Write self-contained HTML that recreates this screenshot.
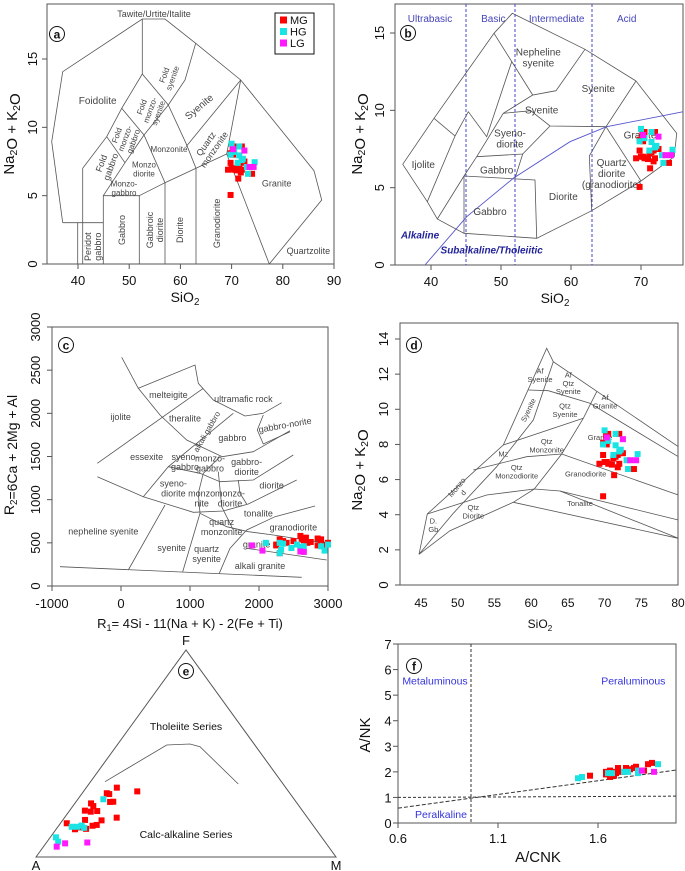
<!DOCTYPE html>
<html><head><meta charset="utf-8">
<style>
html,body{margin:0;padding:0;background:#fff;}
svg{display:block;font-family:"Liberation Sans",Arial,sans-serif;}
</style></head>
<body>
<svg id="fig" width="685" height="871" viewBox="0 0 685 871"></svg>
<script>
// ---- Data ----
const sio2MG = [70.2,70.5,69.8,70.3,72.0,69.8,69.3,70.0,70.5,71.0,71.2,71.8,72.5,72.0,71.8,74.0,71.3,69.8,70.3,71.5];
const alkMG  = [8.5,8.6,8.1,8.0,8.6,7.4,6.9,7.0,6.9,6.85,7.2,7.4,7.5,6.9,6.7,6.6,6.25,5.05,7.0,7.3];
const sio2HG = [70.0,71.5,70.5,69.8,71.5,72.2,71.2,72.0,73.0,73.2,74.5];
const alkHG  = [8.8,8.6,8.2,8.0,7.95,7.7,7.4,7.6,7.1,6.6,7.45];
const sio2LG = [70.3,72.5,73.5,74.3];
const alkLG  = [8.4,8.3,7.1,7.1];
const r1MG = [2250,2300,2350,2400,2500,2600,2620,2650,2680,2700,2750,2850,2900,2950,2850,2300,2600,3000,2250];
const r2MG = [480,540,520,500,520,580,540,530,560,500,510,550,540,480,470,380,450,500,470];
const r1HG = [2100,2300,2320,2350,2470,2550,2600,2650,2900,2950,3000,2300];
const r2HG = [500,500,420,490,440,480,450,460,460,410,480,380];
const r1LG = [1900,2050,2600,2650];
const r2LG = [470,410,400,395];
const fMG = [33.5,31.7,30.8,30.4,26.7,26.6,25.9,24.6,22.2,21.9,22.4,19.0,17.7,15.5,15.1,17.9,16.3,13.4,14.3,13.6];
const mMG = [10.2,17.9,8.2,9.2,12.4,11.4,5.4,6.8,9.3,7.3,5.1,17.4,13.0,12.5,11.3,7.4,2.1,6.3,7.5,9.9];
const fHG = [27.9,14.6,15.2,14.1,9.5,7.4,14.6];
const mHG = [8.5,4.6,7.6,9.0,1.9,3.7,6.5];
const fLG = [5.0,6.6,7.0];
const mLG = [4.4,6.4,13.6];
const acnkMG = [1.56,1.64,1.64,1.66,1.67,1.69,1.68,1.70,1.72,1.74,1.76,1.78,1.79,1.85,1.87,1.83,1.66];
const ankMG  = [1.85,1.9,2.0,2.05,2.0,1.95,1.85,2.15,2.0,2.15,2.1,2.15,2.2,2.3,2.35,2.05,1.8];
const acnkHG = [1.50,1.52,1.65,1.67,1.73,1.75,1.80,1.90,1.80];
const ankHG  = [1.75,1.8,1.95,1.95,2.0,2.0,2.05,2.3,1.95];
const acnkLG = [1.82,1.88];
const ankLG  = [2.05,2.0];
const groupNames = ['MG','HG','LG'];
const COL = {MG:'#ff0000',HG:'#19e3e3',LG:'#ff19ff'};

// ---- helpers ----
const NS='http://www.w3.org/2000/svg';
const svg=document.getElementById('fig');
function el(tag,attrs,parent){const e=document.createElementNS(NS,tag);for(const k in attrs)e.setAttribute(k,attrs[k]);(parent||svg).appendChild(e);return e;}
function lin(d0,d1,p0,p1){return v=>p0+(v-d0)*(p1-p0)/(d1-d0);}
function poly(ox,oy,s,dash,col,w){
  const pts=s.trim().split(/\s+/).map(p=>{const [a,b]=p.split(',').map(Number);return (ox+a/3).toFixed(1)+','+(oy+b/3).toFixed(1);}).join(' ');
  const e=el('polyline',{points:pts,fill:'none',stroke:col||'#555',"stroke-width":w||0.8});
  if(dash)e.setAttribute('stroke-dasharray',dash);
  
  
  return e;
}
function lab(ox,oy,zx,zy,t,size,rot,col,style){
  const x=ox+zx/3,y=oy+zy/3;
  const lines=t.split('|');
  const g=el('text',{x:x,y:y,"font-size":size||9,fill:col||'#444',"text-anchor":"middle"});
  if(rot)g.setAttribute('transform','rotate('+rot+' '+x+' '+y+')');
  if(style)g.setAttribute('style',style);
  lines.forEach((ln,i)=>{const s=el('tspan',{x:x,dy:i==0?(-(lines.length-1)*size*0.55+size*0.35):size*1.1},g);s.textContent=ln;});
  
  
  return g;
}
function txt(x,y,t,size,anchor,rot,name){
  const e=el('text',{x:x,y:y,"font-size":size,fill:'#111',"text-anchor":anchor||'middle'});
  if(rot)e.setAttribute('transform','rotate('+rot+' '+x+' '+y+')');
  e.textContent=t;
  
  
  return e;
}
function box(x0,y0,x1,y1){const r=el('rect',{x:x0,y:y0,width:x1-x0,height:y1-y0,fill:'none',stroke:'#555',"stroke-width":1});
  }
function marker(x,y,g){const r=el('rect',{x:x-3,y:y-3,width:6,height:6,fill:COL[g]});
  
  }
function circ(x,y,t){const c=el('circle',{cx:x,cy:y,r:7.5,fill:'#fff',stroke:'#111',"stroke-width":1});
  
  const e=txt(x,y+4.5,t,12,'middle',0,'panel-letter');e.setAttribute('font-weight','bold');}
function yTitle(x,y,main,sub1,mid,sub2,end,size){
  const t=el('text',{x:x,y:y,"font-size":size,fill:'#111',"text-anchor":'middle',transform:'rotate(-90 '+x+' '+y+')'});
  
  const parts=[[main,0],[sub1,1],[mid,0],[sub2,1],[end,0]];
  parts.forEach(([s,sub])=>{if(!s)return;const sp=el('tspan',sub?{"font-size":size*0.7,dy:3}:{"font-size":size,dy:0},t);
    if(sub){sp.textContent=s;const back=el('tspan',{"font-size":size,dy:-3},t);back.textContent='';}else sp.textContent=s;});
}
function subTitle(x,y,a,sub,b,size,name){
  const t=el('text',{x:x,y:y,"font-size":size,fill:'#111',"text-anchor":'middle'});
  
  const s1=el('tspan',{},t);s1.textContent=a;
  const s2=el('tspan',{"font-size":size*0.7,dy:3},t);s2.textContent=sub;
  const s3=el('tspan',{dy:-3},t);s3.textContent=b;
}
function tickY(xAxis,y,len){const l=el('line',{x1:xAxis-len,y1:y,x2:xAxis,y2:y,stroke:'#555'});}
function tickX(x,yAxis,len){const l=el('line',{x1:x,y1:yAxis,x2:x,y2:yAxis+len,stroke:'#555'});}
function scatter(xs,ys,X,Y,g){xs.forEach((v,i)=>marker(X(v),Y(ys[i]),g));}

// ================= Panel a =================
(function(){
  const X=lin(40,90,78,334), Y=lin(0,15,264,59);
  box(47,4,334,264);
  poly(0,0,'188,668 155,425 188,215 427,57 495,57 587,130 722,240 942,512 965,600 808,792');
  poly(0,0,'188,668 310,668');
  poly(0,0,'233,792 233,668');
  poly(0,0,'248,792 248,505 320,410 365,325 427,222 427,57');
  poly(0,0,'310,792 310,587 418,587 418,792');
  poly(0,0,'310,587 375,488 432,405 505,315 555,240 587,130');
  poly(0,0,'320,410 375,488');
  poly(0,0,'365,325 432,405 495,548 495,792');
  poly(0,0,'427,222 505,315 558,430 588,505 588,792');
  poly(0,0,'418,587 495,548 588,505 680,462 722,240');
  poly(0,0,'558,440 722,240');
  poly(0,0,'680,462 808,792');
  [0,5,10,15].forEach(v=>{tickY(47,Y(v),5);txt(37,Y(v),String(v),13,'middle',-90);});
  [40,50,60,70,80,90].forEach(v=>{tickX(X(v),264,5);txt(X(v),285,String(v),13);});
  yTitle(14,134,'Na','2','O + K','2','O',15);
  subTitle(185,302,'SiO','2','',14,'x-axis-title');
  lab(0,0,462,42,'Tawite/Urtite/Italite',9);
  lab(0,0,293,302,'Foidolite',10);
  lab(0,0,505,230,'Fold|syenite',8,-70);
  lab(0,0,450,330,'Fold|monzo-|syenite',8,-70);
  lab(0,0,375,415,'Fold|monzo-|gabbro',8,-70);
  lab(0,0,318,495,'Fold|gabbro',9,-70);
  lab(0,0,597,320,'Syenite',10,-40);
  lab(0,0,507,447,'Monzonite',8);
  lab(0,0,630,440,'Quartz|monzonite',9,-55);
  lab(0,0,432,508,'Monzo|diorite',8);
  lab(0,0,372,565,'Monzo-|gabbro',8);
  lab(0,0,365,690,'Gabbro',9,-90);
  lab(0,0,465,690,'Gabbroic|diorite',9,-90);
  lab(0,0,540,690,'Diorite',9,-90);
  lab(0,0,650,670,'Granodiorite',9,-90);
  lab(0,0,278,740,'Peridot|gabbro',9,-90);
  lab(0,0,830,550,'Granite',9);
  lab(0,0,925,752,'Quartzolite',9);
  scatter(sio2MG,alkMG,X,Y,'MG');scatter(sio2HG,alkHG,X,Y,'HG');scatter(sio2LG,alkLG,X,Y,'LG');
  circ(57,34,'a');
  const lg=el('rect',{x:275,y:13,width:39,height:41,fill:'#fff',stroke:'#111',"stroke-width":1});
  
  groupNames.forEach((g,i)=>{const y=20+i*11.5;
    const r=el('rect',{x:280,y:y-3.5,width:7,height:7,fill:COL[g]});
    
    txt(290,y+4,g,11,'start',0,'legend-entry');});
})();

// ================= Panel b =================
(function(){
  const X=lin(40,70,431,641), Y=lin(0,15,265,33);
  box(395,4,683,265);
  const ox=340,oy=0;
  poly(ox,oy,'188,493 282,355 462,100 517,40 735,148 888,243 1010,400 1003,470 903,543 755,632 590,715 372,700 292,657 262,605 188,493');
  poly(ox,oy,'282,355 345,408 262,605');
  poly(ox,oy,'345,408 385,335 440,410 515,185');
  poly(ox,oy,'462,100 578,285 648,272 735,148');
  poly(ox,oy,'490,340 572,332 630,378 798,380 888,243');
  poly(ox,oy,'578,285 490,340 410,470 372,528 292,657');
  poly(ox,oy,'410,470 548,462 525,535');
  poly(ox,oy,'372,528 585,540 590,715');
  poly(ox,oy,'630,378 548,462');
  poly(ox,oy,'798,380 748,468 755,632');
  poly(ox,oy,'798,380 903,543');
  poly(ox,oy,'372,528 372,700');
  [45,52,63].forEach(v=>{const l=el('line',{x1:X(v),y1:4,x2:X(v),y2:265,stroke:'#4444cc',"stroke-dasharray":'3,2',"stroke-width":1});
    });
  poly(ox,oy,'255,795 380,650 520,535 690,425 800,380 1030,335',null,'#5555cc',0.9);
  [0,5,10,15].forEach(v=>{tickY(395,Y(v),5);txt(384,Y(v),String(v),13,'middle',-90);});
  [40,50,60,70].forEach(v=>{tickX(X(v),265,5);txt(X(v),286,String(v),13);});
  yTitle(362,134,'Na','2','O + K','2','O',15);
  subTitle(555,303,'SiO','2','',14,'x-axis-title');
  [['Ultrabasic',270],['Basic',460],['Intermediate',650],['Acid',860]].forEach(([t,z])=>lab(ox,oy,z,55,t,10,0,'#4444bb'));
  lab(ox,oy,595,172,'Nepheline|syenite',10);
  lab(ox,oy,775,265,'Syenite',10);
  lab(ox,oy,605,330,'Syenite',10);
  lab(ox,oy,510,415,'Syeno-|diorite',10);
  lab(ox,oy,470,510,'Gabbro',10);
  lab(ox,oy,250,493,'Ijolite',10);
  lab(ox,oy,450,635,'Gabbro',10);
  lab(ox,oy,670,590,'Diorite',10);
  lab(ox,oy,815,520,'Quartz|diorite|(granodiorite)',10);
  lab(ox,oy,900,405,'Granite',10);
  lab(ox,oy,240,705,'Alkaline',10,0,'#222299','font-style:italic;font-weight:bold');
  lab(ox,oy,455,750,'Subalkaline/Tholeiitic',10,0,'#222299','font-style:italic;font-weight:bold');
  scatter(sio2MG,alkMG,X,Y,'MG');scatter(sio2HG,alkHG,X,Y,'HG');scatter(sio2LG,alkLG,X,Y,'LG');
  circ(408,33,'b');
})();

// ================= Panel c =================
(function(){
  const X=lin(-1000,3000,52,328), Y=lin(0,3000,586,327);
  box(52,327,328,586);
  const ox=0,oy=300;
  poly(ox,oy,'365,172 415,265 480,345 560,420 667,470 760,455 870,392');
  poly(ox,oy,'415,265 585,195 595,250 640,300 735,348 790,340 845,308');
  poly(ox,oy,'292,490 610,265');
  poly(ox,oy,'790,345 772,390 790,432 870,395');
  poly(ox,oy,'292,530 430,590 580,637 670,633 745,612 890,540');
  poly(ox,oy,'505,500 600,520 660,545 760,540 880,465');
  poly(ox,oy,'430,590 505,500 700,340');
  poly(ox,oy,'385,810 495,615');
  poly(ox,oy,'548,815 600,640 595,580 610,520 660,470');
  poly(ox,oy,'658,820 690,745 740,690 825,650 945,618');
  poly(ox,oy,'600,640 680,680 745,695 820,705 980,730');
  poly(ox,oy,'655,515 665,620 700,690');
  poly(ox,oy,'715,540 720,580 740,612');
  poly(ox,oy,'180,800 905,832');
  poly(ox,oy,'740,745 980,780');
  [0,500,1000,1500,2000,2500,3000].forEach(v=>{tickY(52,Y(v),5);txt(40,Y(v),String(v),13,'middle',-90);});
  [-1000,0,1000,2000,3000].forEach(v=>{tickX(X(v),586,5);txt(X(v),608,String(v),13);});
  yTitle(14,455,'R','2','=6Ca + 2Mg + Al','','',14);
  subTitle(190,628,'R','1','= 4Si - 11(Na + K) - 2(Fe + Ti)',13,'x-axis-title');
  const L=[['melteigite',505,285],['ultramafic rock',730,296],['ijolite',362,350],['theralite',555,355],['gabbro',697,413],['essexite',440,470],['syeno-|gabbro',555,485],['monzo-|gabbro',630,490],['gabbro-|diorite',740,500],['syeno-|diorite',520,565],['monzo|nite',605,595],['monzo-|diorite',690,595],['diorite',815,556],['tonalite',775,640],['quartz|monzonite',665,680],['granodiorite',880,682],['nepheline syenite',310,694],['syenite',515,744],['quartz|syenite',620,762],['alkali granite',780,797],['granite',770,733]];
  L.forEach(([t,x,y])=>lab(ox,oy,x,y,t,9));
  lab(ox,oy,620,395,'alkali gabbro',8,-60);
  lab(ox,oy,855,375,'gabbro-norite',9,-10);
  scatter(r1MG,r2MG,X,Y,'MG');scatter(r1HG,r2HG,X,Y,'HG');scatter(r1LG,r2LG,X,Y,'LG');
  circ(66,345,'c');
})();

// ================= Panel d =================
(function(){
  const X=lin(45,80,421,678), Y=lin(0,14,585,339);
  box(400,323,678,585);
  const ox=340,oy=310;
  poly(ox,oy,'237,733 262,612 490,405 620,115 640,155 1015,410');
  poly(ox,oy,'237,733 330,662 520,577 583,537 660,543 1015,685');
  poly(ox,oy,'237,733 340,610 470,470 580,330 640,155');
  poly(ox,oy,'262,612 440,555 583,537');
  poly(ox,oy,'400,480 560,440 665,432 1015,555');
  poly(ox,oy,'490,405 730,325');
  poly(ox,oy,'565,240 625,242 750,280 1015,440');
  poly(ox,oy,'583,537 665,432 730,325 770,245');
  poly(ox,oy,'520,577 1015,685');
  poly(ox,oy,'660,543 1015,630');
  [0,2,4,6,8,10,12,14].forEach(v=>{tickY(400,Y(v),5);txt(388,Y(v),String(v),13,'middle',-90);});
  [45,50,55,60,65,70,75,80].forEach(v=>txt(X(v),607,String(v),12));
  yTitle(362,470,'Na','2','O + K','2','O',15);
  subTitle(540,628,'SiO','2','',12,'x-axis-title');
  const L=[['Af|Syenite',600,195],['Af|Qtz|Syenite',685,220],['Af|Granite',795,275],['Qtz|Syenite',675,300],['Granite',780,382],['Qtz|Monzonite',620,407],['Mz',490,432],['Qtz|Monzodiorite',530,485],['Granodiorite',737,492],['D.|Gb',280,645],['Qtz|Diorite',400,605],['Tonalite',720,580]];
  L.forEach(([t,x,y])=>lab(ox,oy,x,y,t,7.5));
  lab(ox,oy,565,300,'Syenite',7.5,-65);
  lab(ox,oy,360,540,'Monzo|d',7.5,-50);
  scatter(sio2MG,alkMG,X,Y,'MG');scatter(sio2HG,alkHG,X,Y,'HG');scatter(sio2LG,alkLG,X,Y,'LG');
  circ(414,345,'d');
})();

// ================= Panel e (AFM ternary) =================
(function(){
  const A=[36,857],F=[186,650],M=[336,857];
  const T=(f,m)=>[A[0]+f/100*(F[0]-A[0])+m/100*(M[0]-A[0]), A[1]+f/100*(F[1]-A[1])+m/100*(M[1]-A[1])];
  const tri=el('polygon',{points:[A,F,M].map(p=>p.join(',')).join(' '),fill:'none',stroke:'#555',"stroke-width":1});
  
  poly(0,600,'315,545 500,435 570,432 600,440 715,552');
  txt(186,645,'F',13,'middle',0,'apex-label-f');
  txt(36,870,'A',13,'middle',0,'apex-label-a');
  txt(336,870,'M',13,'middle',0,'apex-label-m');
  txt(186,730,'Tholeiite Series',10.5,'middle',0,'region-label');
  txt(186,838,'Calc-alkaline Series',10.5,'middle',0,'region-label');
  [[fMG,mMG,'MG'],[fHG,mHG,'HG'],[fLG,mLG,'LG']].forEach(([fs,ms,g])=>fs.forEach((f,i)=>{const p=T(f,ms[i]);marker(p[0],p[1],g);}));
  circ(186,671,'e');
})();

// ================= Panel f =================
(function(){
  const X=lin(0.6,1.6,398,598), Y=lin(0,7,823,644);
  box(398,644,676,823);
  const d1=el('line',{x1:X(0.965),y1:644,x2:X(0.965),y2:823,stroke:'#333',"stroke-dasharray":'3,2'});
  
  const d2=el('line',{x1:398,y1:Y(1),x2:676,y2:Y(1.05),stroke:'#333',"stroke-dasharray":'3,2'});
  
  const d3=el('line',{x1:398,y1:Y(0.58),x2:676,y2:Y(2.07),stroke:'#333',"stroke-dasharray":'4,2'});
  
  [0,1,2,3,4,5,6,7].forEach(v=>{tickY(398,Y(v),5);txt(388,Y(v)+5,String(v),13,'middle',0);});
  [0.6,1.1,1.6].forEach(v=>{tickX(X(v),823,5);txt(X(v),843,v.toFixed(1),13);});
  txt(370,735,'A/NK',15,'middle',-90,'y-axis-title');
  txt(538,862,'A/CNK',15,'middle',0,'x-axis-title');
  lab(360,600,225,243,'Metaluminous',10.5,0,'#3333dd');
  lab(360,600,820,243,'Peraluminous',10.5,0,'#3333dd');
  lab(360,600,243,643,'Peralkaline',10.5,0,'#3333dd');
  scatter(acnkMG,ankMG,X,Y,'MG');scatter(acnkHG,ankHG,X,Y,'HG');scatter(acnkLG,ankLG,X,Y,'LG');
  circ(414,666,'f');
})();
</script>
</body></html>
